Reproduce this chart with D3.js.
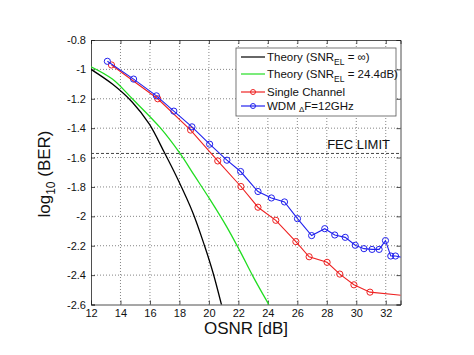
<!DOCTYPE html>
<html><head><meta charset="utf-8">
<script src="https://cdn.jsdelivr.net/npm/d3@7"></script>
<style>
body{margin:0;background:#fff;}
text{font-family:"Liberation Sans",Arial,sans-serif;}
</style></head>
<body>
<svg id="c" width="474" height="355"></svg>
<script>
const xTicks=[12,14,16,18,20,22,24,26,28,30,32];
const yTicks=[-0.8,-1,-1.2,-1.4,-1.6,-1.8,-2,-2.2,-2.4,-2.6];
const theoryInfX=[12,13.45,14.82,15.96,16.98,17.89,18.91,19.71,20.28,20.85,21.0];
const theoryInfY=[-1.0,-1.10,-1.225,-1.373,-1.566,-1.748,-1.975,-2.202,-2.384,-2.6,-2.66];
const theory24X=[12,13.45,14.82,16.68,18.04,19.0,20.07,21.2,22.1,23.0,24.06,24.2];
const theory24Y=[-0.982,-1.066,-1.202,-1.395,-1.572,-1.72,-1.885,-2.07,-2.235,-2.41,-2.6,-2.625];
const singleX=[13.39,16.53,18.76,20.6,22.17,23.33,24.54,25.9,26.8,28.02,28.88,29.84,30.93];
const singleY=[-0.97,-1.20,-1.413,-1.623,-1.797,-1.938,-2.027,-2.172,-2.275,-2.313,-2.393,-2.466,-2.516];
const singleTailX=[30.93,33.5];
const singleTailY=[-2.516,-2.542];
const wdmX=[13.11,14.89,16.44,17.62,18.85,20.05,21.22,22.15,23.33,24.24,25.13,26.01,26.97,27.86,28.54,29.25,29.93,30.52,31.07,31.55,31.98,32.34,32.66];
const wdmY=[-0.945,-1.066,-1.18,-1.284,-1.391,-1.509,-1.618,-1.695,-1.831,-1.875,-1.902,-2.016,-2.131,-2.084,-2.127,-2.143,-2.197,-2.22,-2.225,-2.225,-2.165,-2.27,-2.27];
const wdmTailX=[32.66,33.6];
const wdmTailY=[-2.27,-2.29];
const fecLimit=-1.572;
const legendLabels=["Theory (SNR","Theory (SNR","Single Channel","WDM "];

const svg=d3.select("#c");
const L=91,R=400.5,T=40,B=304.5;
const x=d3.scaleLinear().domain([12,33]).range([L,R]);
const y=d3.scaleLinear().domain([-2.6,-0.8]).range([B,T]);

svg.append("defs").append("clipPath").attr("id","clip")
  .append("rect").attr("x",L).attr("y",T).attr("width",R-L).attr("height",B-T);

// grid
const g=svg.append("g");
g.selectAll(".vg").data(xTicks.slice(1)).enter().append("line")
 .attr("x1",d=>x(d)).attr("x2",d=>x(d)).attr("y1",T).attr("y2",B)
 .attr("stroke","#777").attr("stroke-width",0.9).attr("stroke-dasharray","1,2");
g.selectAll(".hg").data(yTicks.slice(1,-1)).enter().append("line")
 .attr("y1",d=>y(d)).attr("y2",d=>y(d)).attr("x1",L).attr("x2",R)
 .attr("stroke","#777").attr("stroke-width",0.9).attr("stroke-dasharray","1,2");

// axes
svg.append("g").attr("transform",`translate(0,${B})`)
 .call(d3.axisBottom(x).tickValues(xTicks).tickSize(-4).tickPadding(5).tickFormat(d=>d));
svg.append("g").attr("transform",`translate(${L},0)`)
 .call(d3.axisLeft(y).tickValues(yTicks).tickSize(-4).tickPadding(5).tickFormat(d=>String(d)));
svg.append("g").attr("transform",`translate(0,${T})`)
 .call(d3.axisTop(x).tickValues(xTicks).tickSize(-4).tickFormat(""));
svg.append("g").attr("transform",`translate(${R},0)`)
 .call(d3.axisRight(y).tickValues(yTicks).tickSize(-4).tickFormat(""));
svg.selectAll(".domain").attr("stroke","#222").attr("stroke-width",0.8);
svg.selectAll(".tick line").attr("stroke","#222").attr("stroke-width",0.8);
svg.selectAll(".tick text").attr("font-size","11px").attr("fill","#111")
 .style("font-family","'Liberation Sans',Arial,sans-serif");

// FEC limit
svg.append("line").attr("x1",L).attr("x2",R).attr("y1",y(fecLimit)).attr("y2",y(fecLimit))
 .attr("stroke","#444").attr("stroke-width",1).attr("stroke-dasharray","3,2");
svg.append("text").attr("x",390).attr("y",y(fecLimit)-4).attr("text-anchor","end")
 .attr("font-size","13px").attr("fill","#111").text("FEC LIMIT");

const plot=svg.append("g").attr("clip-path","url(#clip)");
const zip=(a,b)=>a.map((v,i)=>[v,b[i]]);
const smooth=d3.line().x(d=>x(d[0])).y(d=>y(d[1])).curve(d3.curveCatmullRom);
const straight=d3.line().x(d=>x(d[0])).y(d=>y(d[1]));

plot.append("path").datum(zip(theoryInfX,theoryInfY)).attr("d",smooth)
 .attr("fill","none").attr("stroke","#000").attr("stroke-width",1.3);
plot.append("path").datum(zip(theory24X,theory24Y)).attr("d",smooth)
 .attr("fill","none").attr("stroke","#22dd22").attr("stroke-width",1.3);

function series(xs,ys,tx,ty,color){
  plot.append("path").datum(zip(xs,ys).concat(zip(tx,ty).slice(1))).attr("d",straight)
   .attr("fill","none").attr("stroke",color).attr("stroke-width",1.1);
  plot.selectAll(null).data(zip(xs,ys)).enter().append("circle")
   .attr("cx",d=>x(d[0])).attr("cy",d=>y(d[1])).attr("r",3.1)
   .attr("fill","none").attr("stroke",color).attr("stroke-width",1);
}
series(singleX,singleY,singleTailX,singleTailY,"#ee2222");
series(wdmX,wdmY,wdmTailX,wdmTailY,"#2222ee");

// legend
const lg=svg.append("g");
lg.append("rect").attr("x",236).attr("y",48).attr("width",160).attr("height",68)
 .attr("fill","#fff").attr("stroke","#555").attr("stroke-width",0.8);
const rows=[{c:"#000",m:false},{c:"#22dd22",m:false},{c:"#ee2222",m:true},{c:"#2222ee",m:true}];
const rowY=[57,74,92,106];
rows.forEach((r,i)=>{
  lg.append("line").attr("x1",241).attr("x2",265).attr("y1",rowY[i]).attr("y2",rowY[i])
   .attr("stroke",r.c).attr("stroke-width",1.2);
  if(r.m) lg.append("circle").attr("cx",253).attr("cy",rowY[i]).attr("r",2.5)
   .attr("fill","none").attr("stroke",r.c).attr("stroke-width",1);
});
const fs="11.5px";
const t0=lg.append("text").attr("x",267).attr("y",rowY[0]+4).attr("font-size",fs).attr("fill","#111");
t0.append("tspan").text(legendLabels[0]);
t0.append("tspan").attr("font-size","8.5px").attr("dy",4).text("EL");
t0.append("tspan").attr("dy",-4).text(" = \u221E)");
const t1=lg.append("text").attr("x",267).attr("y",rowY[1]+4).attr("font-size",fs).attr("fill","#111");
t1.append("tspan").text(legendLabels[1]);
t1.append("tspan").attr("font-size","8.5px").attr("dy",4).text("EL");
t1.append("tspan").attr("dy",-4).text(" = 24.4dB)");
lg.append("text").attr("x",267).attr("y",rowY[2]+4).attr("font-size",fs).attr("fill","#111").text(legendLabels[2]);
const t3=lg.append("text").attr("x",267).attr("y",rowY[3]+4).attr("font-size",fs).attr("fill","#111");
t3.append("tspan").text(legendLabels[3]);
t3.append("tspan").attr("font-size","8px").attr("dy",2).text("\u0394");
t3.append("tspan").attr("dy",-2).text("F=12GHz");

// axis labels
svg.append("text").attr("x",246).attr("y",334).attr("text-anchor","middle")
 .attr("font-size","17px").attr("fill","#111").text("OSNR [dB]");
const yl=svg.append("text").attr("transform","translate(50,174) rotate(-90)").attr("text-anchor","middle")
 .attr("font-size","17px").attr("fill","#111");
yl.append("tspan").text("log");
yl.append("tspan").attr("font-size","12px").attr("dy",5).text("10");
yl.append("tspan").attr("dy",-5).text(" (BER)");
</script>
</body></html>
